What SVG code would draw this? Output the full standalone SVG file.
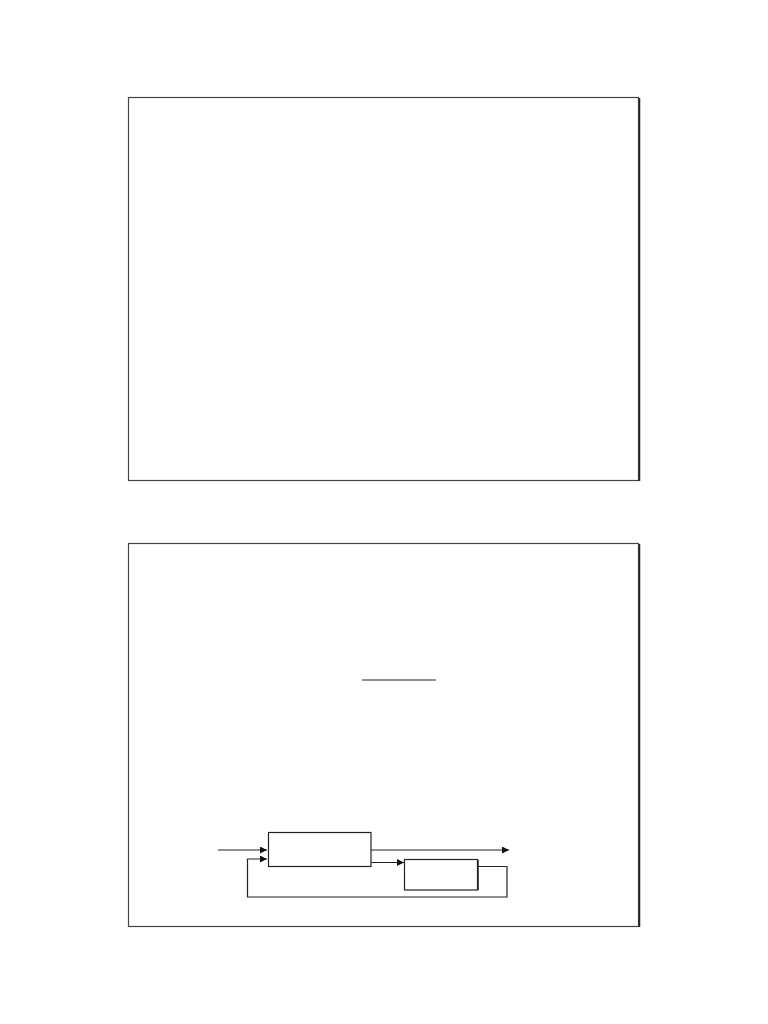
<svg xmlns="http://www.w3.org/2000/svg" width="768" height="1024" viewBox="0 0 768 1024">
<style>
.frame{fill:#fff;stroke:#444;stroke-width:1.2}
.shadow{stroke:#222;stroke-width:1.5;fill:none}
.box{fill:#fff;stroke:#222;stroke-width:1.2}
.wire{fill:none;stroke:#222;stroke-width:1.2}
</style>
<defs>
<marker id="ah" viewBox="0 0 10 10" refX="10" refY="5" markerWidth="8" markerHeight="7" markerUnits="userSpaceOnUse" orient="auto">
<path d="M0,0 L10,5 L0,10 Z" fill="#111"/>
</marker>
</defs>
<rect width="768" height="1024" fill="#fff"/>
<g id="page1">
<rect class="frame" x="128.5" y="97.5" width="510" height="383"/>
<line class="shadow" x1="639.5" y1="98" x2="639.5" y2="481"/>
</g>
<g id="page2">
<rect class="frame" x="128.5" y="543.5" width="510" height="383"/>
<line class="shadow" x1="639.5" y1="544" x2="639.5" y2="927"/>
<line class="wire" x1="362" y1="680" x2="436" y2="680"/>
</g>
<g id="block1"><rect class="box" x="268.5" y="832.5" width="102.5" height="34"/></g>
<g id="block2"><rect class="box" x="404.5" y="859.5" width="73" height="30.5"/><line class="shadow" x1="478" y1="860" x2="478" y2="890"/></g>
<g id="connectors">
<line class="wire" x1="218" y1="850" x2="267" y2="850" marker-end="url(#ah)"/>
<line class="wire" x1="371" y1="850" x2="509" y2="850" marker-end="url(#ah)"/>
<line class="wire" x1="371" y1="862.5" x2="404" y2="862.5" marker-end="url(#ah)"/>
<polyline class="wire" points="478,866.5 507,866.5 507,897 247.5,897 247.5,859 267,859" marker-end="url(#ah)"/>
</g>
</svg>
